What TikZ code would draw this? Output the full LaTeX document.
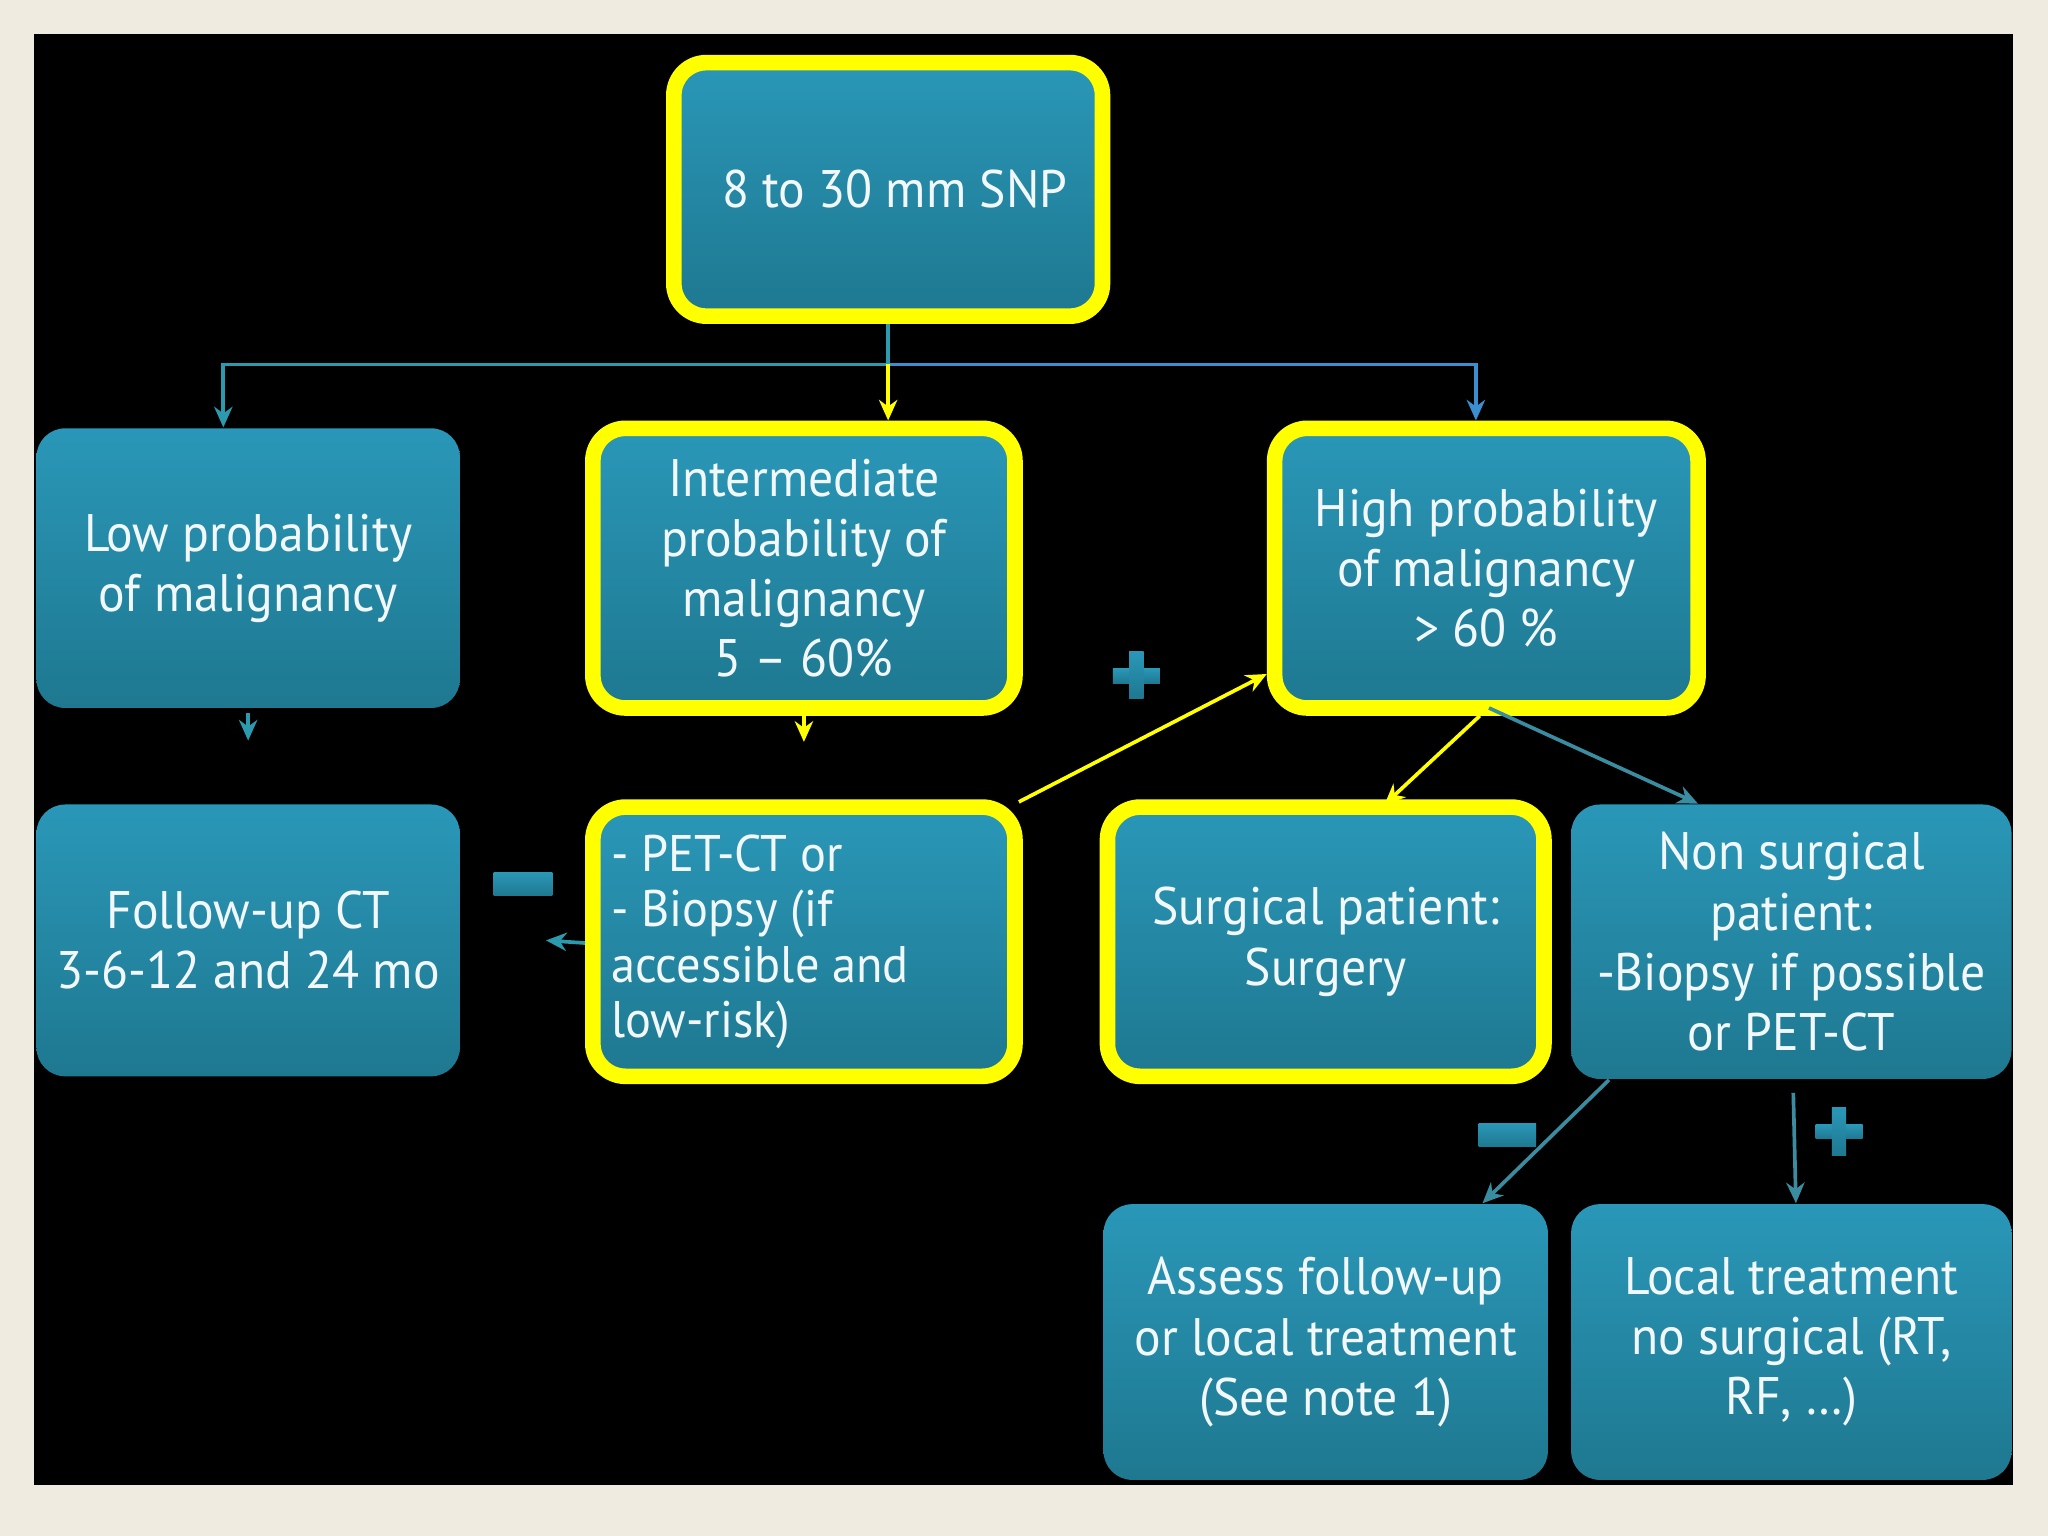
\documentclass[tikz,border=0pt]{standalone}
\usepackage{fontspec}
\setmainfont{PT Sans}[FakeStretch=0.94]
\usetikzlibrary{arrows.meta}

\definecolor{cream}{HTML}{EFEBE1}
\definecolor{boxtop}{HTML}{2A97B8}
\definecolor{boxbot}{HTML}{1E7890}
\definecolor{ylw}{HTML}{FFFF00}
\definecolor{lnk}{HTML}{2B9AAE}
\definecolor{lnkblue}{HTML}{3A8FD0}
\definecolor{lnkgray}{HTML}{3A8CA0}
\definecolor{txt}{HTML}{F2F8FA}

\tikzset{
  box/.style={rounded corners=0.22cm, top color=boxtop, bottom color=boxbot,
    draw=none, text=txt, align=center, inner sep=0pt,
    font=\fontsize{11.5}{13.1}\selectfont},
  ybox/.style={box, draw=ylw, line width=3.4pt, rounded corners=0.25cm},
  tip/.style={-{Stealth[length=4.5pt,width=4pt]}},
  conn/.style={line width=0.8pt},
  sign/.style={top color=boxtop, bottom color=boxbot, draw=none},
}

\begin{document}
\begin{tikzpicture}[x=0.01cm, y=-0.01cm]
\useasboundingbox (0,0) rectangle (1568,1176);
\fill[cream] (0,0) rectangle (1568,1176);
\fill[black] (26,26) rectangle (1541,1137);

% nodes
\node[ybox, minimum width=3.28cm, minimum height=1.94cm] (top) at (680,145) {\hspace*{0.1cm}8 to 30 mm SNP};
\node[box, minimum width=3.24cm, minimum height=2.14cm] (low) at (190,435) {Low probability\\of malignancy};
\node[ybox, minimum width=3.23cm, minimum height=2.14cm] (inter) at (615.5,435) {Intermediate\\probability of\\malignancy\\5 – 60\%};
\node[ybox, minimum width=3.24cm, minimum height=2.14cm] (high) at (1138,435) {High probability\\of malignancy\\> 60 \%};
\node[box, minimum width=3.24cm, minimum height=2.08cm] (follow) at (190,720) {Follow-up CT\\3-6-12 and 24 mo};
\node[ybox, minimum width=3.23cm, minimum height=2.06cm, text width=2.95cm, align=flush left,
  font=\fontsize{11.2}{12.1}\selectfont] (pet) at (615.5,721) {- PET-CT or\\- Biopsy (if\\accessible and\\low-risk)};
\node[ybox, minimum width=3.34cm, minimum height=2.06cm] (surg) at (1015,721) {Surgical patient:\\Surgery};
\node[box, minimum width=3.37cm, minimum height=2.10cm] (nonsurg) at (1371.5,721) {Non surgical\\patient:\\-Biopsy if possible\\or PET-CT};
\node[box, minimum width=3.40cm, minimum height=2.11cm] (assess) at (1015,1027.5) {Assess follow-up\\or local treatment\\(See note 1)};
\node[box, minimum width=3.37cm, minimum height=2.11cm] (local) at (1371.5,1027.5) {Local treatment\\no surgical (RT,\\RF, …)};

% connectors
\coordinate (j) at (680,279);
\draw[lnk, conn] (top.south) -- (j);
\draw[lnk, conn, tip] (j) -| ([xshift=-0.19cm]low.north);
\draw[lnkblue, conn, tip] (j) -| ([xshift=-0.08cm]high.north);
\draw[ylw, conn, tip] (j) -- (j |- inter.north);

\coordinate (lowend) at (190,567);
\draw[lnk, conn, tip] ([yshift=-0.03cm]low.south) -- (lowend);
\coordinate (interend) at (615.5,568);
\draw[ylw, conn, tip] (inter.south) -- (interend);
\coordinate (petend) at (418,720);
\draw[lnk, conn, tip] ([yshift=-0.01cm]pet.west) -- (petend);

\draw[ylw, conn, tip] ([xshift=-0.03cm,yshift=-0.02cm]pet.north east) -- ([yshift=0.32cm]high.south west);
\draw[ylw, conn, tip] ([xshift=-0.05cm]high.south) -- ([xshift=0.45cm,yshift=-0.04cm]surg.north);
\draw[lnkgray, conn, tip] ([xshift=0.02cm,yshift=0.06cm]high.south) -- ([xshift=-0.715cm]nonsurg.north);
\draw[lnkgray, conn, tip] ([xshift=-1.395cm]nonsurg.south) -- ([xshift=1.2cm]assess.north);
\draw[lnkgray, conn, tip] ([xshift=0.015cm,yshift=-0.1cm]nonsurg.south) -- ([xshift=0.035cm]local.north);

% plus / minus signs
\fill[sign] (852,512) rectangle (888,523);
\fill[sign] (864.5,499) rectangle (875.5,535);
\fill[sign] (378,668) rectangle (423,686);
\fill[sign] (1132,860) rectangle (1176,878);
\fill[sign] (1390,861) rectangle (1426,872);
\fill[sign] (1402.5,848) rectangle (1413.5,885);
\end{tikzpicture}
\end{document}
